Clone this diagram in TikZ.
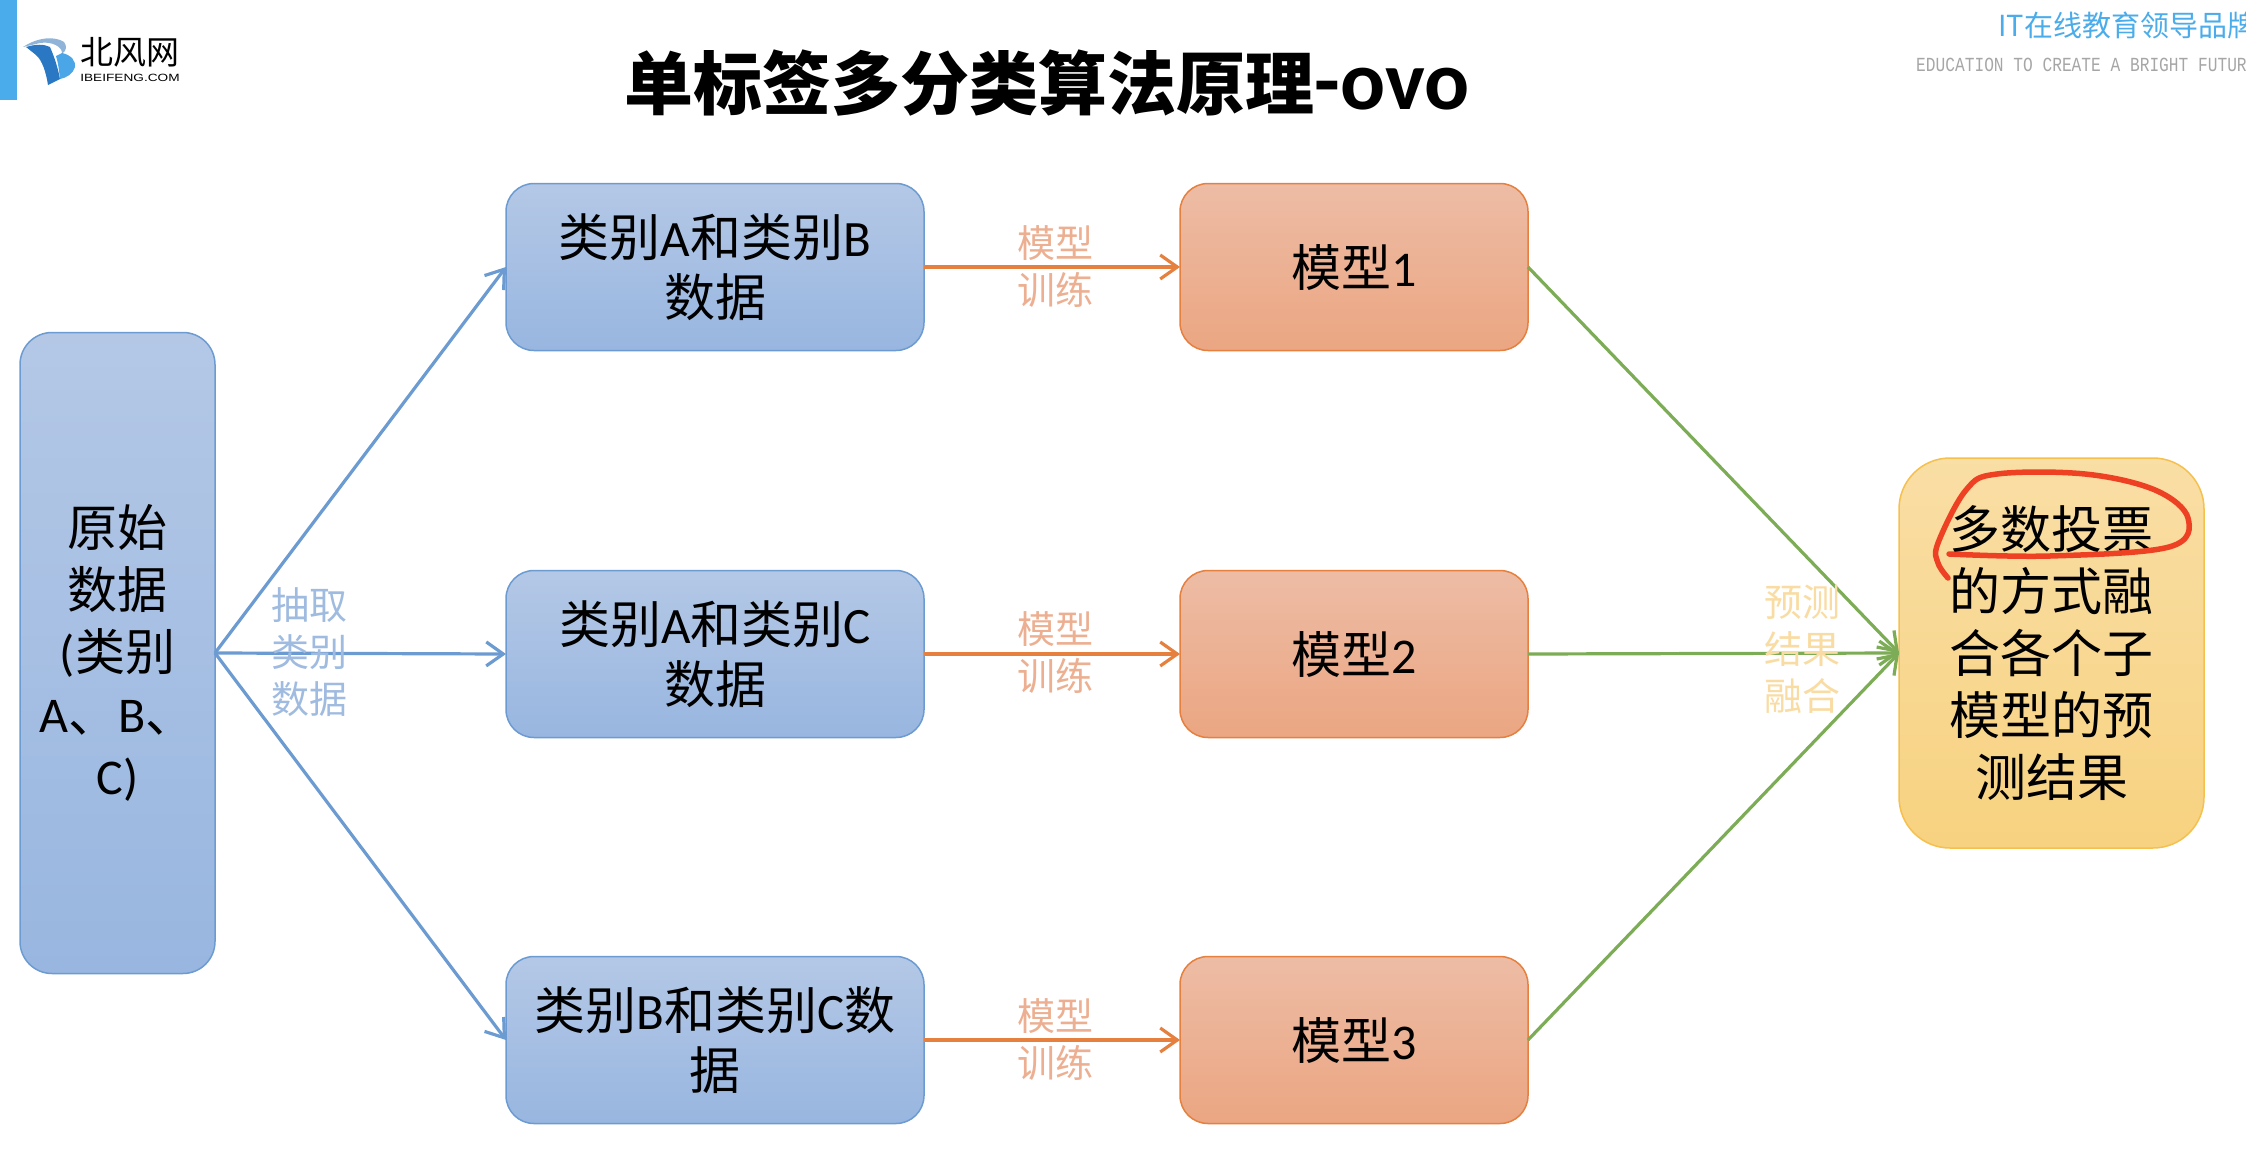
\documentclass[tikz,border=0pt]{standalone}
\usepackage{fontspec}
\usepackage{tikz}
\usetikzlibrary{arrows.meta}
\setmainfont{Carlito}
\newfontfamily\zhfont{Noto Sans CJK SC}
\newfontfamily\subfont[FakeStretch=0.81]{Liberation Mono}
\newfontfamily\logofont[FakeStretch=1.3]{Liberation Sans}
\newcommand{\zh}[1]{{\zhfont #1}}
\definecolor{barblue}{HTML}{4AACEA}
\definecolor{subgray}{HTML}{A6A6A6}
\definecolor{edgeblue}{HTML}{6C9BD2}
\definecolor{edgeorange}{HTML}{E5803F}
\definecolor{edgegreen}{HTML}{7CAC55}
\definecolor{edgeyellow}{HTML}{F5C04E}
\definecolor{markred}{HTML}{EE4023}
\definecolor{bluetop}{HTML}{B4C8E6}
\definecolor{bluebot}{HTML}{98B6E0}
\definecolor{orangetop}{HTML}{EDBCA5}
\definecolor{orangebot}{HTML}{EBA682}
\definecolor{yellowtop}{HTML}{F9DEA5}
\definecolor{yellowbot}{HTML}{F7D280}
\definecolor{labelblue}{HTML}{A0BBE0}
\definecolor{labelorange}{HTML}{ECAF91}
\definecolor{labelyellow}{HTML}{F9DCA3}
\definecolor{logodark}{HTML}{2A78C4}
\definecolor{logolight}{HTML}{4AA6E6}
\definecolor{logogray}{HTML}{8FB4D8}
\tikzset{
    databox/.style={draw=edgeblue,line width=1.5pt,top color=bluetop,bottom color=bluebot,rounded corners=28pt,minimum width=418pt,minimum height=167pt,outer sep=0pt,align=center,font=\fontsize{51}{60}\selectfont},
    modelbox/.style={draw=edgeorange,line width=1.5pt,top color=orangetop,bottom color=orangebot,rounded corners=28pt,minimum width=348pt,minimum height=167pt,outer sep=0pt,align=center,font=\fontsize{50}{62}\selectfont},
    sidelabel/.style={inner sep=0pt,align=center,font=\fontsize{38}{47}\selectfont\zhfont},
    bluearrow/.style={draw=edgeblue,line width=3.2pt,-{Straight Barb[length=17pt,width=24pt]}},
    orangearrow/.style={draw=edgeorange,line width=3.2pt,-{Straight Barb[length=17pt,width=24pt]}},
    greenarrow/.style={draw=edgegreen,line width=3.2pt,-{Straight Barb[length=17pt,width=24pt]}}
}
\begin{document}
\begin{tikzpicture}[x=1pt,y=-1pt]
        \clip (0,0) rectangle (2246,1164);
        % Draw the corner bar and the logo
        \fill[barblue] (0,0) rectangle (17,100);
        \fill[logogray] (23,47) .. controls (38,37) and (55,36) .. (64,42) .. controls (67,46) and (67,50) .. (62,54) .. controls (63,47) and (52,41) .. (40,43) -- cycle;
        \fill[logodark] (26,47) .. controls (36,44) and (44,44) .. (50,47) .. controls (54,56) and (58,68) .. (60,79) -- (48,85) .. controls (46,72) and (42,60) .. (36,55) -- cycle;
        \fill[logolight] (62,53) .. controls (72,55) and (76,62) .. (75,67) .. controls (73,74) and (66,78) .. (60,79) .. controls (59,70) and (58,62) .. (56,56) -- cycle;
        \node[inner sep=0pt,font=\fontsize{33}{33}\selectfont\zhfont] (logoname) at (130,52) {北风网};
        \node[inner sep=0pt,font=\fontsize{10.5}{10.5}\selectfont\logofont] (logourl) at (130,78) {IBEIFENG.COM};
        % Draw the title and the top right lines
        \node[inner sep=0pt,font=\fontsize{69}{69}\selectfont] (title) at (1047,83) {{\zhfont\bfseries 单标签多分类算法原理}{\fontsize{84}{84}\selectfont\bfseries -ovo}};
        \node[anchor=west,inner sep=0pt,text=barblue,font=\fontsize{29}{29}\selectfont\zhfont] (slogan) at (1998,25) {IT在线教育领导品牌};
        \node[anchor=west,inner sep=0pt,text=subgray,font=\fontsize{20}{20}\selectfont\subfont] (sloganen) at (1916,65) {EDUCATION TO CREATE A BRIGHT FUTURE};
        % Draw the boxes
        \node[databox,minimum width=195pt,minimum height=641pt,rounded corners=32pt,font=\fontsize{50}{62}\selectfont] (source) at (117.5,653) {\zh{原始}\\\zh{数据}\\(\zh{类别}\\A\zh{、}B\zh{、}\\C)};
        \node[databox] (dataab) at (715,267) {\zh{类别}A\zh{和类别}B\\\zh{数据}};
        \node[databox] (dataac) at (715,654) {\zh{类别}A\zh{和类别}C\\\zh{数据}};
        \node[databox] (databc) at (715,1040) {\zh{类别}B\zh{和类别}C\zh{数}\\\zh{据}};
        \node[modelbox] (modelone) at (1354,267) {\zh{模型}1};
        \node[modelbox] (modeltwo) at (1354,654) {\zh{模型}2};
        \node[modelbox] (modelthree) at (1354,1040) {\zh{模型}3};
        \node[draw=edgeyellow,line width=1.5pt,top color=yellowtop,bottom color=yellowbot,rounded corners=51pt,minimum width=305pt,minimum height=390pt,outer sep=0pt,align=center,font=\fontsize{51}{62}\selectfont\zhfont] (vote) at (2051.5,653) {多数投票\\的方式融\\合各个子\\模型的预\\测结果};
        % Draw the arrows
        \draw[bluearrow] (source.east) -- (dataab.west);
        \draw[bluearrow] (source.east) -- (dataac.west);
        \draw[bluearrow] (source.east) -- (databc.west);
        \draw[orangearrow] (dataab.east) -- (modelone.west);
        \draw[orangearrow] (dataac.east) -- (modeltwo.west);
        \draw[orangearrow] (databc.east) -- (modelthree.west);
        \draw[greenarrow] (modelone.east) -- (vote.west);
        \draw[greenarrow] (modeltwo.east) -- (vote.west);
        \draw[greenarrow] (modelthree.east) -- (vote.west);
        % Draw the labels on the arrows
        \node[sidelabel,text=labelblue] (pick) at (309,652) {抽取\\类别\\数据};
        \node[sidelabel,text=labelorange] (trainone) at (1055,267) {模型\\训练};
        \node[sidelabel,text=labelorange] (traintwo) at (1055,653) {模型\\训练};
        \node[sidelabel,text=labelorange] (trainthree) at (1055,1040) {模型\\训练};
        \node[sidelabel,text=labelyellow] (merge) at (1802,649) {预测\\结果\\融合};
        % Draw the red pen mark
        \draw[markred,line width=5.5pt,line cap=round,line join=round] plot[smooth,tension=0.6] coordinates {(1949,554) (2050,556) (2169,547) (2188,518) (2155,490) (2085,474) (1997,474) (1966,490) (1938,543) (1938,563) (1948,578)};
\end{tikzpicture}
\end{document}
